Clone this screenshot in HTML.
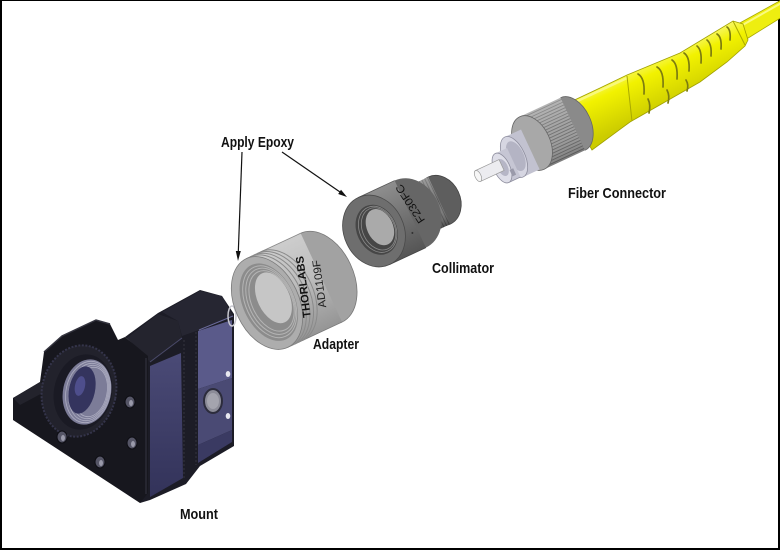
<!DOCTYPE html>
<html><head><meta charset="utf-8"><style>
html,body{margin:0;padding:0;background:#fff;}
svg{display:block;}
text{font-family:"Liberation Sans",Arial,sans-serif;}
</style></head><body>
<svg width="780" height="550" viewBox="0 0 780 550" xmlns="http://www.w3.org/2000/svg">
<defs>
 <linearGradient id="gAd" x1="0" y1="-49" x2="0" y2="49" gradientUnits="userSpaceOnUse">
  <stop offset="0" stop-color="#cdcdcd"/><stop offset="0.45" stop-color="#bdbdbd"/><stop offset="1" stop-color="#959595"/>
 </linearGradient>
 <linearGradient id="gCol" x1="0" y1="-37" x2="0" y2="37" gradientUnits="userSpaceOnUse">
  <stop offset="0" stop-color="#8e8e8e"/><stop offset="0.5" stop-color="#727272"/><stop offset="1" stop-color="#555"/>
 </linearGradient>
 <linearGradient id="gThrShade" x1="0" y1="-26" x2="0" y2="26" gradientUnits="userSpaceOnUse">
  <stop offset="0" stop-color="#fff" stop-opacity="0.25"/><stop offset="0.5" stop-color="#fff" stop-opacity="0"/><stop offset="1" stop-color="#000" stop-opacity="0.35"/>
 </linearGradient>
 <linearGradient id="gNutShade" x1="0" y1="-29" x2="0" y2="29" gradientUnits="userSpaceOnUse">
  <stop offset="0" stop-color="#fff" stop-opacity="0.25"/><stop offset="0.5" stop-color="#fff" stop-opacity="0.05"/><stop offset="1" stop-color="#000" stop-opacity="0.2"/>
 </linearGradient>
 <linearGradient id="gBoot" x1="640" y1="62" x2="662" y2="110" gradientUnits="userSpaceOnUse">
  <stop offset="0" stop-color="#f8f870"/><stop offset="0.3" stop-color="#f2f200"/><stop offset="1" stop-color="#cccc00"/>
 </linearGradient>
 <linearGradient id="gSide1" x1="0" y1="355" x2="0" y2="495" gradientUnits="userSpaceOnUse">
  <stop offset="0" stop-color="#4a4a76"/><stop offset="1" stop-color="#33335a"/>
 </linearGradient>
</defs>

<!-- frame -->
<rect x="0" y="0" width="780" height="550" fill="#000"/>
<rect x="2" y="1" width="776" height="547" fill="#fff"/>

<!-- ================= MOUNT ================= -->
<path d="M125,337 L158,313 L200,290 L222,296 L234,314 L234,446 L200,466 L186,484 L150,500 L140,503 L148,356 Z" fill="#1c1c26"/>
<path d="M127,338 L158,314 L178,321 L182,338 L150,362 Z" fill="#24242e"/>
<path d="M162,312 L200,291 L222,296 L233,316 L199,330 L182,336 L178,321 Z" fill="#262632"/>
<path d="M150,362 L182,338" stroke="#4a4a6a" stroke-width="1"/>
<path d="M199,330 L233,316" stroke="#6a6a9a" stroke-width="1"/>
<path d="M150,366 L181,353 L183,478 L150,497 Z" fill="url(#gSide1)"/>
<path d="M198,331 L232,320 L232,378 L198,389 Z" fill="#5a5a8a"/>
<path d="M198,389 L232,378 L232,430 L198,445 Z" fill="#4a4a74"/>
<path d="M198,445 L232,430 L232,442 L198,463 Z" fill="#3a3a62"/>
<path d="M184,340 L184,480 M196,332 L196,465" stroke="#34343f" stroke-width="1" stroke-dasharray="2,2"/>
<ellipse cx="213" cy="401" rx="9" ry="12" fill="#8c8c98" stroke="#2c2c3c" stroke-width="2"/>
<ellipse cx="213" cy="401" rx="6" ry="8" fill="#a4a4ae"/>
<ellipse cx="228" cy="374" rx="2.3" ry="3" fill="#e8e8f0"/>
<ellipse cx="228" cy="416" rx="2.3" ry="3" fill="#e8e8f0"/>
<ellipse cx="232" cy="316" rx="4" ry="10" fill="none" stroke="#c8c8d0" stroke-width="1.5"/>

<!-- front plate -->
<path d="M13,398 L40,382 L44,352 L62,336 L96,320 L110,324 L118,340 L125,337 L148,356 L148,493 L140,503 L13,420 Z" fill="#17171e"/>
<path d="M13,398 L40,382 L50,389 L20,405 Z" fill="#23232c"/>
<path d="M44,352 L62,336 L96,320 L110,324" fill="none" stroke="#34343f" stroke-width="1.5"/>
<path d="M146,358 L146,494" stroke="#30303c" stroke-width="1.2"/>
<!-- rim -->
<ellipse cx="79" cy="391" rx="37" ry="46" transform="rotate(12 79 391)" fill="#22222c" stroke="#34344a" stroke-width="2" stroke-dasharray="2,1.5"/>
<ellipse cx="83" cy="392" rx="29" ry="38" transform="rotate(12 83 392)" fill="#1a1a24"/>
<ellipse cx="87" cy="392" rx="24" ry="33" transform="rotate(12 87 392)" fill="#7c7c98"/>
<g fill="none" stroke="#acacc0" stroke-width="0.8">
 <ellipse cx="88" cy="392" rx="22" ry="31" transform="rotate(12 88 392)"/>
 <ellipse cx="89" cy="392" rx="20" ry="29" transform="rotate(12 89 392)"/>
 <ellipse cx="90" cy="392" rx="18" ry="27" transform="rotate(12 90 392)"/>
 <ellipse cx="91" cy="392" rx="16" ry="25" transform="rotate(12 91 392)"/>
</g>
<ellipse cx="82" cy="390" rx="13" ry="24" transform="rotate(12 82 390)" fill="#34345e"/>
<ellipse cx="80" cy="386" rx="5" ry="10" transform="rotate(12 80 386)" fill="#5a5aa0" opacity="0.7"/>
<g fill="#555566" stroke="#0e0e14" stroke-width="1">
 <ellipse cx="130" cy="402" rx="5" ry="6"/>
 <ellipse cx="62" cy="437" rx="5" ry="6"/>
 <ellipse cx="132" cy="443" rx="5" ry="6"/>
 <ellipse cx="100" cy="462" rx="5" ry="6"/>
</g>
<g fill="#9a9aaa">
 <ellipse cx="131" cy="403" rx="2" ry="3"/>
 <ellipse cx="63" cy="438" rx="2" ry="3"/>
 <ellipse cx="133" cy="444" rx="2" ry="3"/>
 <ellipse cx="101" cy="463" rx="2" ry="3"/>
</g>

<!-- ================= ADAPTER ================= -->
<g transform="translate(267,303) rotate(-25)">
 <ellipse cx="60" cy="0" rx="32" ry="49" fill="#a2a2a2" stroke="#777" stroke-width="0.8"/>
 <rect x="0" y="-49" width="60" height="98" fill="url(#gAd)"/>
 <line x1="0" y1="-49" x2="60" y2="-49" stroke="#888" stroke-width="0.8"/>
 <line x1="0" y1="49" x2="60" y2="49" stroke="#777" stroke-width="0.8"/>
 <g fill="none" stroke="#8a8a8a" stroke-width="1">
  <path d="M4,-49 A32,49 0 0 1 4,49"/>
  <path d="M8,-49 A32,49 0 0 1 8,49"/>
  <path d="M12,-49 A32,49 0 0 1 12,49"/>
  <path d="M16,-49 A32,49 0 0 1 16,49"/>
 </g>
 <ellipse cx="0" cy="0" rx="32" ry="49" fill="#adadad" stroke="#7a7a7a" stroke-width="0.8"/>
 <ellipse cx="2" cy="0" rx="26" ry="41" fill="#8c8c8c"/>
 <g fill="none" stroke="#b4b4b4" stroke-width="1">
  <ellipse cx="3" cy="0" rx="24" ry="38"/>
  <ellipse cx="4" cy="0" rx="22" ry="35"/>
  <ellipse cx="5" cy="0" rx="20" ry="32"/>
 </g>
 <ellipse cx="8" cy="-2" rx="16" ry="27" fill="#c6c6c6"/>
</g>
<text transform="translate(303,287) rotate(-97)" text-anchor="middle" dy="4" font-size="11" font-weight="bold" fill="#111" textLength="62" lengthAdjust="spacingAndGlyphs">THORLABS</text>
<text transform="translate(319,284) rotate(-98)" text-anchor="middle" dy="4" font-size="11" fill="#222" textLength="48" lengthAdjust="spacingAndGlyphs">AD1109F</text>

<!-- ================= COLLIMATOR ================= -->
<g transform="translate(374,231) rotate(-25)">
 <ellipse cx="72" cy="0" rx="21" ry="26" fill="#5e5e5e" stroke="#444" stroke-width="0.8"/>
 <rect x="36" y="-26" width="36" height="52" fill="#7a7a7a"/>
 <path d="M38,-26v52M41,-26v52M44,-26v52M47,-26v52M50,-26v52M53,-26v52M56,-26v52M59,-26v52M62,-26v52M65,-26v52M68,-26v52M71,-26v52" stroke="#555" stroke-width="0.9"/>
 <rect x="36" y="-26" width="36" height="52" fill="url(#gThrShade)"/>
 <ellipse cx="40" cy="0" rx="30" ry="37" fill="#666"/>
 <rect x="0" y="-37" width="40" height="74" fill="url(#gCol)"/>
 <line x1="0" y1="-37" x2="40" y2="-37" stroke="#555" stroke-width="0.8"/>
 <line x1="0" y1="37" x2="40" y2="37" stroke="#444" stroke-width="0.8"/>
 <ellipse cx="0" cy="0" rx="30" ry="37" fill="#6e6e6e" stroke="#4a4a4a" stroke-width="0.8"/>
 <ellipse cx="3" cy="0" rx="20" ry="26" fill="#464646"/>
 <g fill="none" stroke="#8a8a8a" stroke-width="0.8">
  <ellipse cx="4" cy="0" rx="18" ry="24"/>
  <ellipse cx="5" cy="0" rx="16" ry="22"/>
 </g>
 <ellipse cx="7" cy="-1" rx="13" ry="19" fill="#aaaaaa"/>
 <circle cx="34" cy="18" r="1" fill="#333"/>
</g>
<text transform="translate(410,204) rotate(-123)" text-anchor="middle" dy="4" font-size="11" fill="#111" textLength="44" lengthAdjust="spacingAndGlyphs">F230FC</text>

<!-- ================= FIBER CONNECTOR ================= -->
<path d="M738,24 L785,-2 L790,12 L745,40 Z" fill="#eeee10" stroke="#a8a800" stroke-width="0.8"/>
<path d="M739,27 L785,1" stroke="#fafa80" stroke-width="2"/>
<path d="M566,104 L600,88 L627,75 L680,53 L733,21 L743,24 L748,40 L745,46 L727,62 L700,82 L630,122 L592,150 Z" fill="url(#gBoot)" stroke="#a0a000" stroke-width="0.8"/>
<path d="M571,104 L627,78" stroke="#fafa90" stroke-width="2.5" opacity="0.8"/>
<path d="M627,76 L632,121" stroke="#a8a800" stroke-width="1"/>
<path d="M733,21 L745,45" stroke="#a8a800" stroke-width="1"/>
<g fill="none" stroke="#7c7c10" stroke-width="1.7" stroke-linecap="round">
 <path d="M638,74 q7,4 6,20"/>
 <path d="M657,67 q7,4 6,20"/>
 <path d="M672,60 q6,4 5,19"/>
 <path d="M684,53 q6,4 5,18"/>
 <path d="M697,46 q5,4 4,17"/>
 <path d="M707,40 q5,4 4,16"/>
 <path d="M717,34 q5,3 4,15"/>
 <path d="M727,27 q4,3 3,13"/>
 <path d="M648,99 q3,6 1,14"/>
 <path d="M667,90 q3,6 1,13"/>
 <path d="M686,80 q3,5 1,11"/>
</g>
<!-- nut -->
<g transform="translate(532,143) rotate(-25)">
 <ellipse cx="45" cy="0" rx="18" ry="29" fill="#8a8a8a"/>
 <rect x="0" y="-29" width="45" height="58" fill="#9c9c9c"/>
 <path d="M0,-27h45M0,-24h45M0,-21h45M0,-18h45M0,-15h45M0,-12h45M0,-9h45M0,-6h45M0,-3h45M0,0h45M0,3h45M0,6h45M0,9h45M0,12h45M0,15h45M0,18h45M0,21h45M0,24h45M0,27h45" stroke="#6a6a6a" stroke-width="0.9"/>
 <rect x="0" y="-29" width="45" height="58" fill="url(#gNutShade)"/>
 <path d="M45,-29 A18,29 0 0 1 45,29" fill="none" stroke="#666" stroke-width="0.8"/>
 <ellipse cx="0" cy="0" rx="18" ry="29" fill="#a8a8a8" stroke="#666" stroke-width="0.8"/>
</g>
<g transform="translate(514,157) rotate(-25)">
 <rect x="0" y="-22" width="18" height="44" fill="#c2c2d0"/>
 <ellipse cx="0" cy="0" rx="11" ry="22" fill="#d6d6e2" stroke="#8e8e9e" stroke-width="0.8"/>
 <ellipse cx="2" cy="0" rx="8" ry="16" fill="#b4b4c4"/>
</g>
<g transform="translate(502,168) rotate(-25)">
 <rect x="0" y="-16" width="13" height="32" fill="#c6c6d4"/>
 <line x1="0" y1="16" x2="13" y2="16" stroke="#8e8e9e" stroke-width="0.8"/>
 <ellipse cx="0" cy="0" rx="8" ry="16" fill="#dedee8" stroke="#8e8e9e" stroke-width="0.8"/>
 <ellipse cx="1" cy="0" rx="5" ry="9" fill="#b6b6c6"/>
 <rect x="6" y="5" width="4" height="7" fill="#9a9aaa"/>
</g>
<g transform="translate(478,176) rotate(-25)">
 <rect x="0" y="-6" width="26" height="12" fill="#ececf0" stroke="#999" stroke-width="0.7"/>
 <ellipse cx="0" cy="0" rx="3" ry="6" fill="#f6f6f6" stroke="#999" stroke-width="0.7"/>
</g>

<!-- ================= ARROWS ================= -->
<line x1="242" y1="152" x2="238.3" y2="252" stroke="#111" stroke-width="1.2"/>
<polygon points="238,261 240.8,251 235.8,251" fill="#111"/>
<line x1="282" y1="152" x2="340" y2="192" stroke="#111" stroke-width="1.2"/>
<polygon points="347,197 338.2,194 341,189.8" fill="#111"/>

<!-- ================= LABELS ================= -->
<g font-weight="bold" font-size="15" fill="#111">
<text x="221" y="147" textLength="73" lengthAdjust="spacingAndGlyphs">Apply Epoxy</text>
<text x="432" y="273" textLength="62" lengthAdjust="spacingAndGlyphs">Collimator</text>
<text x="313" y="349" textLength="46" lengthAdjust="spacingAndGlyphs">Adapter</text>
<text x="568" y="198" textLength="98" lengthAdjust="spacingAndGlyphs">Fiber Connector</text>
<text x="180" y="519" textLength="38" lengthAdjust="spacingAndGlyphs">Mount</text>
</g>
</svg>
</body></html>
